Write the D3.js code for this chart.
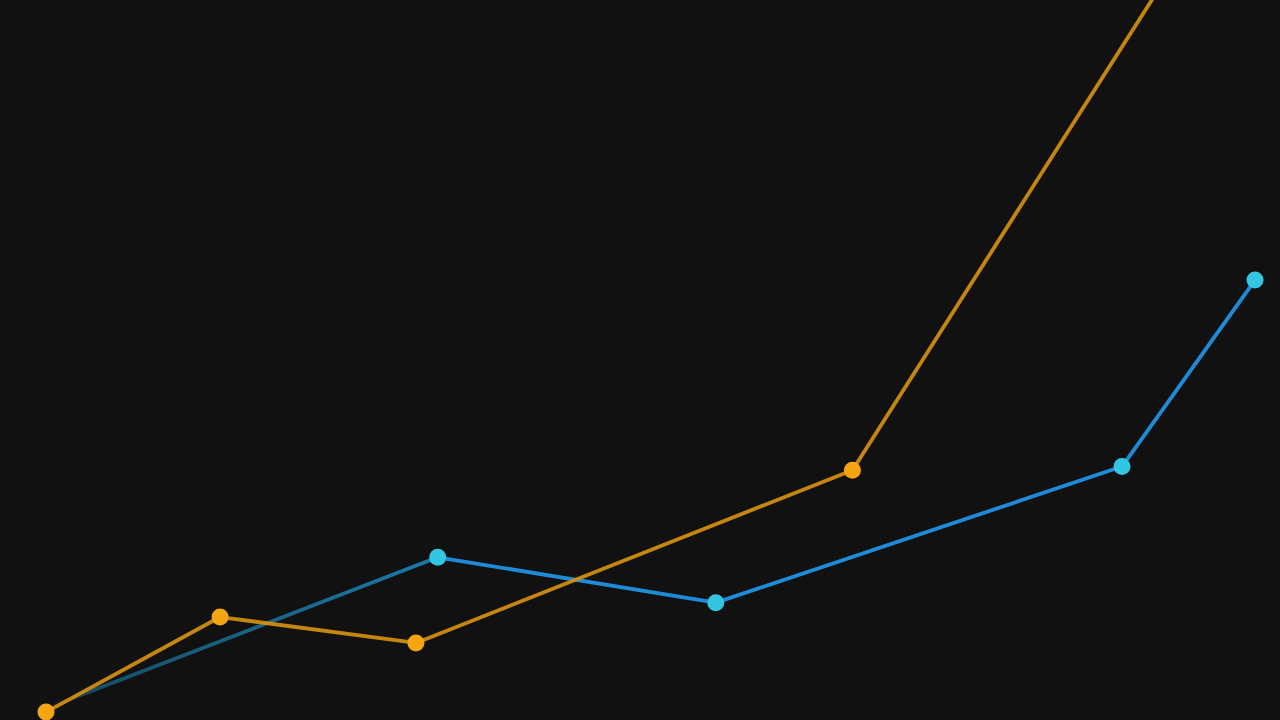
<!DOCTYPE html>
<html>
<head>
<meta charset="utf-8">
<script src="https://cdn.jsdelivr.net/npm/d3@7"></script>
<style>
  html, body { margin: 0; padding: 0; background: #111111; overflow: hidden; }
  svg { display: block; }
</style>
</head>
<body>
<svg id="chart" width="1280" height="720"></svg>
<script>
// Data (x = position along time axis, y = value)
const orangeX = [0, 14.4, 30.6, 66.7, 100];
const orangeY = [1.1, 14.3, 10.7, 34.7, 122.5];
const blueX = [0, 32.4, 55.4, 89.0, 100];
const blueY = [1.6, 22.6, 16.3, 35.2, 61.1];

const W = 1280, H = 720;
const svg = d3.select("#chart");

const x = d3.scaleLinear().domain([0, 100]).range([46, 1255]);
const y = d3.scaleLinear().domain([0, 100]).range([720, 0]);

const orange = orangeX.map((v, i) => ({ x: v, y: orangeY[i] }));
const blue = blueX.map((v, i) => ({ x: v, y: blueY[i] }));

const line = d3.line().x(d => x(d.x)).y(d => y(d.y));

// gradient for blue line: fades in along first segment
const defs = svg.append("defs");
const g = defs.append("linearGradient")
  .attr("id", "blueGrad")
  .attr("gradientUnits", "userSpaceOnUse")
  .attr("x1", x(blueX[0])).attr("y1", 0)
  .attr("x2", x(blueX[blueX.length - 1])).attr("y2", 0);
const split = (blueX[1] - blueX[0]) / (blueX[blueX.length - 1] - blueX[0]);
g.append("stop").attr("offset", 0).attr("stop-color", "#1b7aa3").attr("stop-opacity", 0);
g.append("stop").attr("offset", split * 0.12).attr("stop-color", "#1b7aa3").attr("stop-opacity", 0.6);
g.append("stop").attr("offset", split * 0.999).attr("stop-color", "#1b7fb0").attr("stop-opacity", 0.95);
g.append("stop").attr("offset", split).attr("stop-color", "#1e8ad8").attr("stop-opacity", 1);
g.append("stop").attr("offset", 1).attr("stop-color", "#1e8ad8").attr("stop-opacity", 1);

svg.append("path")
  .datum(blue)
  .attr("d", line)
  .attr("fill", "none")
  .attr("stroke", "url(#blueGrad)")
  .attr("stroke-width", 3.8)
  .attr("stroke-linejoin", "round");

svg.append("path")
  .datum(orange)
  .attr("d", line)
  .attr("fill", "none")
  .attr("stroke", "#d5900f")
  .attr("stroke-opacity", 0.92)
  .attr("stroke-width", 3.8)
  .attr("stroke-linejoin", "round");

svg.append("g").selectAll("circle")
  .data(blue.slice(1))
  .join("circle")
  .attr("cx", d => x(d.x))
  .attr("cy", d => y(d.y))
  .attr("r", 8.5)
  .attr("fill", "#33c6e2");

svg.append("g").selectAll("circle")
  .data(orange)
  .join("circle")
  .attr("cx", d => x(d.x))
  .attr("cy", d => y(d.y))
  .attr("r", 8.5)
  .attr("fill", "#f5a412");
</script>
</body>
</html>
